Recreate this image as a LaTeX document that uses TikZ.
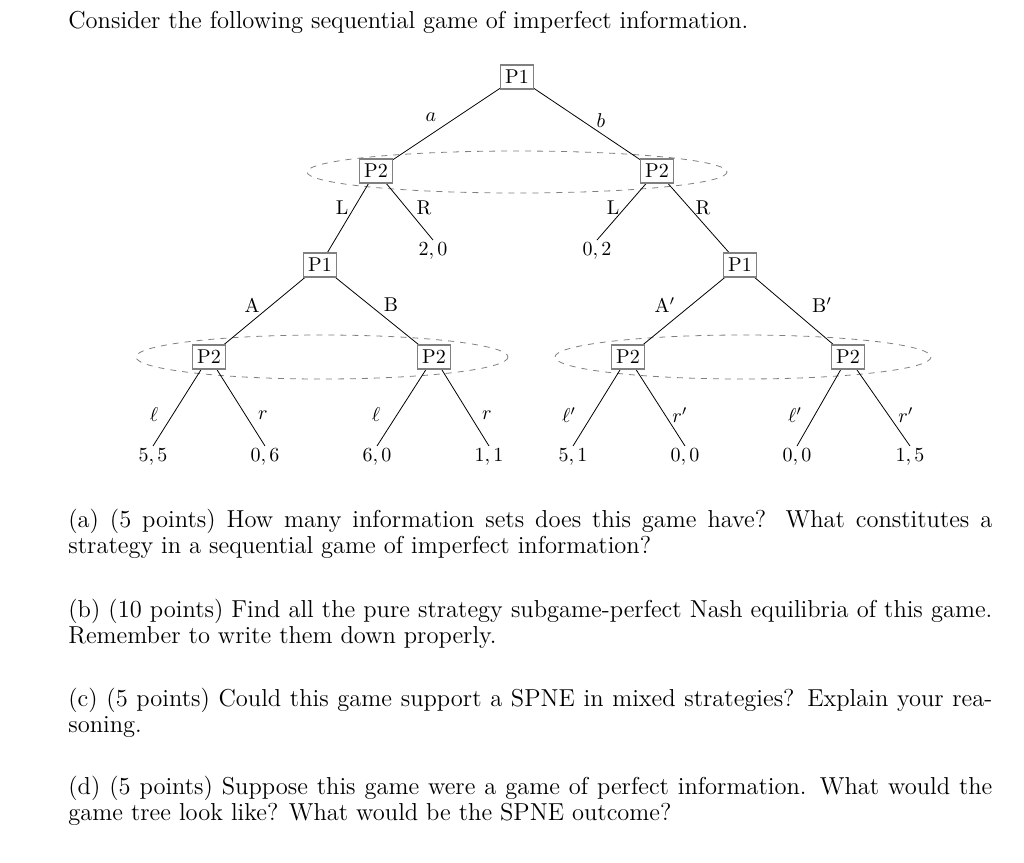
\documentclass[tikz,border=0pt]{standalone}
\usepackage{amsmath}
\begin{document}
\begin{tikzpicture}[x=0.5pt,y=-0.5pt,
  pl/.style={draw=gray,semithick,fill=white,inner sep=2.5pt,minimum height=12pt},
  pay/.style={inner sep=1pt},
  lab/.style={inner sep=0pt},
  info/.style={draw=gray,dashed,thin},
  par/.style={anchor=north west,inner sep=0pt,text width=462pt,align=justify,
    font=\fontsize{12.25}{13}\selectfont}]
\useasboundingbox (0,0) rectangle (1024,863);
% information sets
\draw[info] (517,172) ellipse (210 and 21);
\draw[info] (322,357) ellipse (186 and 22);
\draw[info] (743,357) ellipse (188 and 22);
% edges first, nodes on top
\coordinate (r0) at (517,77);
\coordinate (c20) at (433,240);
\coordinate (c02) at (597,240);
\foreach \n/\x in {t1/153,t2/265,t3/377,t4/489,t5/573,t6/685,t7/797,t8/910}
  \coordinate (\n) at (\x,446);
\coordinate (q1) at (376,171); \coordinate (q2) at (657,171);
\coordinate (s1) at (320,265); \coordinate (s2) at (740,265);
\coordinate (u1) at (209,357); \coordinate (u2) at (434,357);
\coordinate (u3) at (628,357); \coordinate (u4) at (848,357);
\draw (r0) -- (q1) (r0) -- (q2)
  (q1) -- (s1) (q1) -- (c20) (q2) -- (c02) (q2) -- (s2)
  (s1) -- (u1) (s1) -- (u2) (s2) -- (u3) (s2) -- (u4)
  (u1) -- (t1) (u1) -- (t2) (u2) -- (t3) (u2) -- (t4)
  (u3) -- (t5) (u3) -- (t6) (u4) -- (t7) (u4) -- (t8);
\node[pl] (n0) at (r0) {P1};
\node[pl] (n1) at (q1) {P2};
\node[pl] (n2) at (q2) {P2};
\node[pl] (n3) at (s1) {P1};
\node[pl] (n4) at (s2) {P1};
\node[pl] (n5) at (u1) {P2};
\node[pl] (n6) at (u2) {P2};
\node[pl] (n7) at (u3) {P2};
\node[pl] (n8) at (u4) {P2};
% payoffs
\node[pay,anchor=north] (p0) at (c20) {$2,0$};
\node[pay,anchor=north] (p1) at (c02) {$0,2$};
\node[pay,anchor=north] (p2) at (t1) {$5,5$};
\node[pay,anchor=north] (p3) at (t2) {$0,6$};
\node[pay,anchor=north] (p4) at (t3) {$6,0$};
\node[pay,anchor=north] (p5) at (t4) {$1,1$};
\node[pay,anchor=north] (p6) at (t5) {$5,1$};
\node[pay,anchor=north] (p7) at (t6) {$0,0$};
\node[pay,anchor=north] (p8) at (t7) {$0,0$};
\node[pay,anchor=north] (p9) at (t8) {$1,5$};
% action labels
\node[lab] (la) at (431,117) {$a$};
\node[lab] (lb) at (601,121) {$b$};
\node[lab] (l1) at (342,208) {L};
\node[lab] (l2) at (424,208) {R};
\node[lab] (l3) at (613,208) {L};
\node[lab] (l4) at (703,208) {R};
\node[lab] (l5) at (252,305) {A};
\node[lab] (l6) at (391,305) {B};
\node[lab] (l7) at (665,305) {A$'$};
\node[lab] (l8) at (822,305) {B$'$};
\node[lab] (m1) at (154,415) {$\ell$};
\node[lab] (m2) at (263,415) {$r$};
\node[lab] (m3) at (376,415) {$\ell$};
\node[lab] (m4) at (487,415) {$r$};
\node[lab] (m5) at (569,415) {$\ell'$};
\node[lab] (m6) at (680,415) {$r'$};
\node[lab] (m7) at (795,415) {$\ell'$};
\node[lab] (m8) at (906,415) {$r'$};
% text
\node[par] (tt) at (68,11) {Consider the following sequential game of imperfect information.};
\node[par] (qa) at (68,509) {(a) (5 points) How many information sets does this game have? What constitutes a strategy in a sequential game of imperfect information?};
\node[par] (qb) at (68,599) {(b) (10 points) Find all the pure strategy subgame-perfect Nash equilibria of this game. Remember to write them down properly.};
\node[par] (qc) at (68,688) {(c) (5 points) Could this game support a SPNE in mixed strategies? Explain your rea\-soning.};
\node[par] (qd) at (68,776) {(d) (5 points) Suppose this game were a game of perfect information. What would the game tree look like? What would be the SPNE outcome?};
\end{tikzpicture}
\end{document}
